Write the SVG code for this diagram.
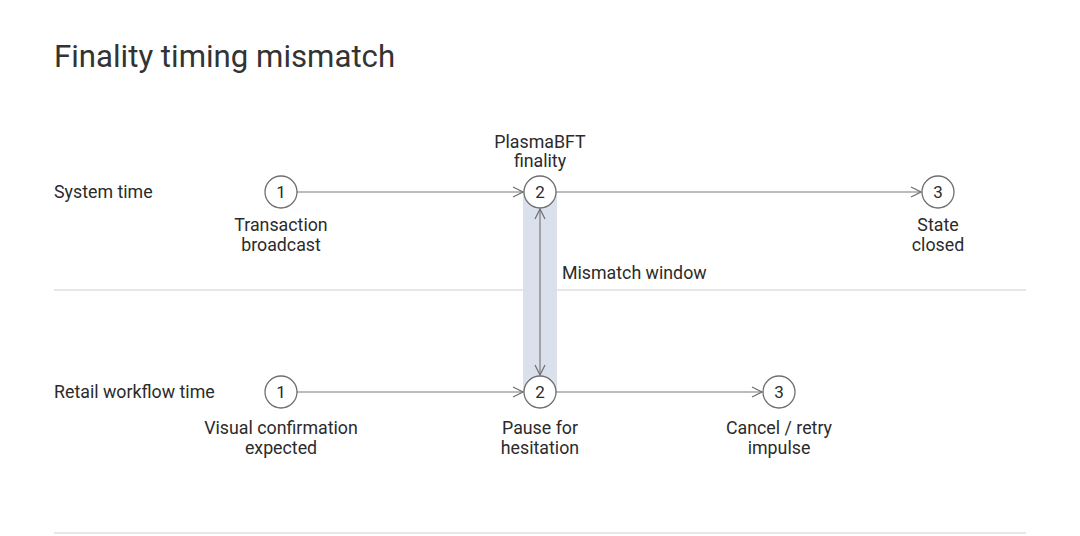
<svg xmlns="http://www.w3.org/2000/svg" width="1080" height="536" viewBox="0 0 1080 536">
<defs>
<style>
text{font-family:Roboto,"Liberation Sans",sans-serif;fill:#2b2b2b}
.t{font-size:31.2px;fill:#333}
.l{font-size:17.8px}
.c{font-size:17.8px;text-anchor:middle}
.n{font-size:17px;text-anchor:middle}
circle{fill:#fff;stroke:#6f6f6f;stroke-width:1.3}
.e{stroke:#7a7a7a;stroke-width:1.2;fill:none}
.d{stroke:#cfcfcf;stroke-width:1.2}
</style>
<marker id="a" viewBox="0 0 12 12" refX="11" refY="6" markerWidth="12" markerHeight="12" markerUnits="userSpaceOnUse" orient="auto-start-reverse">
<path d="M1,1 L11,6 L1,11" fill="none" stroke="#6f6f6f" stroke-width="1.2"/>
</marker>
</defs>
<rect width="1080" height="536" fill="#fff"/>
<text class="t" x="54" y="67">Finality timing mismatch</text>
<line class="d" x1="54" y1="290" x2="1026" y2="290"/>
<line class="d" x1="54" y1="533" x2="1026" y2="533"/>
<rect x="523" y="192" width="34" height="200" fill="#dbe0ed"/>
<text class="l" x="54" y="198">System time</text>
<text class="l" x="54" y="398">Retail workflow time</text>
<g id="connectors">
<line class="e" x1="297" y1="192" x2="523" y2="192" marker-end="url(#a)"/>
<line class="e" x1="556" y1="192" x2="921" y2="192" marker-end="url(#a)"/>
<line class="e" x1="297" y1="392" x2="523" y2="392" marker-end="url(#a)"/>
<line class="e" x1="556" y1="392" x2="762" y2="392" marker-end="url(#a)"/>
<line class="e" x1="540" y1="209" x2="540" y2="375" marker-start="url(#a)" marker-end="url(#a)"/>
<text class="l" x="562" y="279">Mismatch window</text>
</g>
<g id="s1"><circle cx="281" cy="192" r="16"/><text class="n" x="281" y="198">1</text>
<text class="c" x="281" y="231">Transaction</text><text class="c" x="281" y="251">broadcast</text></g>
<g id="s2"><circle cx="540" cy="192" r="16"/><text class="n" x="540" y="198">2</text>
<text class="c" x="540" y="148">PlasmaBFT</text><text class="c" x="540" y="167">finality</text></g>
<g id="s3"><circle cx="938" cy="192" r="16"/><text class="n" x="938" y="198">3</text>
<text class="c" x="938" y="231">State</text><text class="c" x="938" y="251">closed</text></g>
<g id="r1"><circle cx="281" cy="392" r="16"/><text class="n" x="281" y="398">1</text>
<text class="c" x="281" y="434">Visual confirmation</text><text class="c" x="281" y="454">expected</text></g>
<g id="r2"><circle cx="540" cy="392" r="16"/><text class="n" x="540" y="398">2</text>
<text class="c" x="540" y="434">Pause for</text><text class="c" x="540" y="454">hesitation</text></g>
<g id="r3"><circle cx="779" cy="392" r="16"/><text class="n" x="779" y="398">3</text>
<text class="c" x="779" y="434">Cancel / retry</text><text class="c" x="779" y="454">impulse</text></g>
</svg>
